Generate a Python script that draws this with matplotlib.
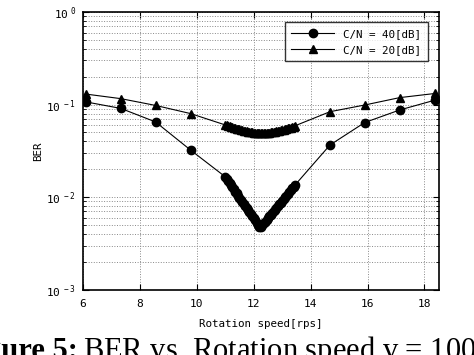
import numpy as np
import matplotlib
matplotlib.use("Agg")
import matplotlib.pyplot as plt
from matplotlib.ticker import LogLocator, FixedLocator, NullFormatter, NullLocator, FuncFormatter

plt.rc('font', family='DejaVu Sans Mono')
plt.rc('mathtext', fontset='custom', rm='DejaVu Sans Mono', default='regular')

# rotation speed [rps]
speed = [6.1, 7.33, 8.55, 9.78,
         11.00, 11.05, 11.10, 11.15, 11.20, 11.25, 11.30, 11.35, 11.40, 11.45,
         11.50, 11.55, 11.60, 11.65, 11.70, 11.75, 11.80, 11.85, 11.90, 11.95,
         12.00, 12.05, 12.10, 12.15, 12.20, 12.25, 12.30, 12.35, 12.40, 12.45,
         12.50, 12.55, 12.60, 12.65, 12.70, 12.75, 12.80, 12.85, 12.90, 12.95,
         13.00, 13.05, 13.10, 13.15, 13.20, 13.25, 13.30, 13.35, 13.40, 13.45,
         14.68, 15.9, 17.13, 18.38]

# BER, C/N = 40 dB
ber_40 = [0.107, 0.091, 0.065, 0.0323,
          0.0166, 0.0158, 0.0150, 0.0142, 0.0135, 0.0128, 0.0122, 0.0115, 0.0110, 0.0104,
          0.0099, 0.0094, 0.0089, 0.0085, 0.0080, 0.0076, 0.0072, 0.0069, 0.0065, 0.0062,
          0.0059, 0.0056, 0.0053, 0.0050, 0.0048, 0.0048, 0.0050, 0.0052, 0.0054, 0.0056,
          0.0059, 0.0062, 0.0064, 0.0067, 0.0070, 0.0073, 0.0077, 0.0080, 0.0084, 0.0087,
          0.0091, 0.0095, 0.0100, 0.0104, 0.0109, 0.0114, 0.0119, 0.0124, 0.0130, 0.0135,
          0.0366, 0.064, 0.0875, 0.112]

# BER, C/N = 20 dB
ber_20 = [0.130, 0.116, 0.098, 0.080,
          0.0603, 0.0596, 0.0589, 0.0582, 0.0575, 0.0568, 0.0562, 0.0556, 0.0550, 0.0544,
          0.0539, 0.0534, 0.0529, 0.0524, 0.0520, 0.0516, 0.0512, 0.0508, 0.0505, 0.0502,
          0.0499, 0.0496, 0.0494, 0.0492, 0.0491, 0.0490, 0.0490, 0.0491, 0.0492, 0.0494,
          0.0496, 0.0498, 0.0501, 0.0504, 0.0507, 0.0510, 0.0514, 0.0518, 0.0522, 0.0526,
          0.0531, 0.0536, 0.0541, 0.0546, 0.0552, 0.0558, 0.0564, 0.0570, 0.0577, 0.0590,
          0.0838, 0.099, 0.119, 0.132]

x_ticks = [6, 8, 10, 12, 14, 16, 18]

fig = plt.figure(figsize=(4.74, 3.55), dpi=100, facecolor='w')
ax = fig.add_axes([0.175, 0.184, 0.7505, 0.782])

ax.plot(speed, ber_40, '-o', color='black', lw=0.8, ms=6, label='C/N = 40[dB]')
ax.plot(speed, ber_20, '-^', color='black', lw=0.8, ms=6, label='C/N = 20[dB]')

ax.set_yscale('log')
ax.set_xlim(6, 18.5)
ax.set_ylim(1e-3, 1)
ax.xaxis.set_major_locator(FixedLocator(x_ticks))
ax.xaxis.set_minor_locator(NullLocator())
ax.yaxis.set_major_locator(LogLocator(base=10, numticks=10))
ax.yaxis.set_minor_locator(LogLocator(base=10, subs=np.arange(2, 10), numticks=10))
ax.yaxis.set_minor_formatter(NullFormatter())
ax.yaxis.set_major_formatter(FuncFormatter(lambda v, p: r'$10^{\ %d}$' % round(np.log10(v))))

ax.grid(True, which='major', axis='both', linestyle=':', color='#888888', lw=0.7)
ax.grid(True, which='minor', axis='y', linestyle=':', color='#888888', lw=0.7)

ax.tick_params(which='both', direction='in', top=True, right=True, labelsize=8)
ax.tick_params(axis='x', pad=7)
ax.tick_params(axis='y', pad=5)
ax.tick_params(which='major', length=4)
ax.tick_params(which='minor', length=2)
for s in ax.spines.values():
    s.set_linewidth(1.2)

ax.set_xlabel('Rotation speed[rps]', fontsize=7.8, labelpad=7)
ax.set_ylabel('BER', fontsize=7.8, labelpad=2)

leg = ax.legend(loc='upper right', bbox_to_anchor=(0.984, 0.982), fontsize=7.8,
                frameon=True, fancybox=False, edgecolor='black', handlelength=4.0,
                borderpad=0.6, labelspacing=0.55)
leg.get_frame().set_linewidth(1.0)

# caption of the page, cut by the crop
fig.text(0.165, -0.012, 'Figure 5:', family='Liberation Serif', weight='bold',
         fontsize=22, ha='right', va='baseline')
fig.text(0.175, -0.012, 'BER vs. Rotation speed $v$ = 100[Hz]',
         family='Liberation Serif', fontsize=22, ha='left', va='baseline')

fig.savefig('out.png', dpi=100)
